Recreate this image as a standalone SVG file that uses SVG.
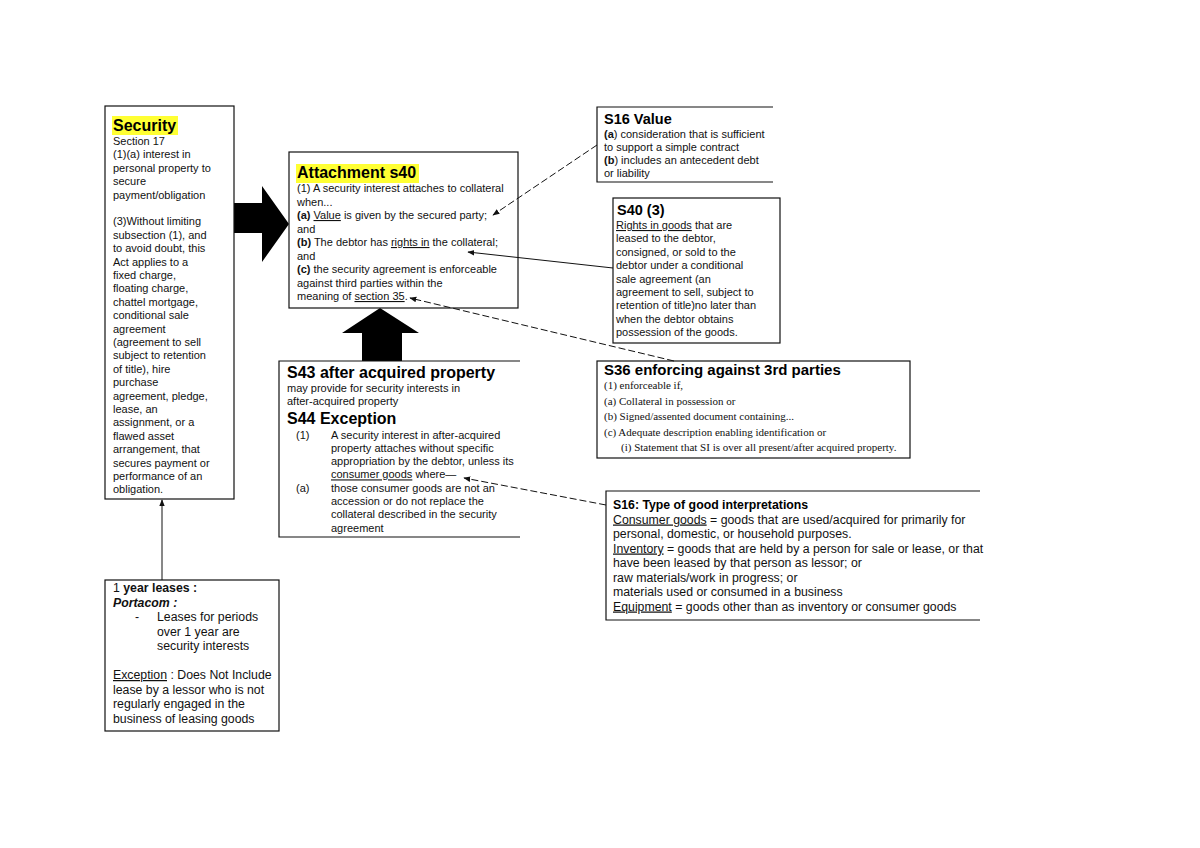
<svg xmlns="http://www.w3.org/2000/svg" width="1200" height="848" viewBox="0 0 1200 848">
<style>
.box{fill:#fff;stroke:#111;stroke-width:1.2}
.ln{fill:none;stroke:#111;stroke-width:1.2}
.t{font-family:"Liberation Sans",Arial,sans-serif;font-size:11px;fill:#111}
.t12{font-family:"Liberation Sans",Arial,sans-serif;font-size:12.3px;fill:#111}
.tr{font-family:"Liberation Serif","Times New Roman",serif;font-size:11px;fill:#111}
.h{font-family:"Liberation Sans",Arial,sans-serif;font-weight:bold;fill:#000}
.b{font-weight:bold}
.u{text-decoration:underline}
.hl{fill:#ffff33}
.con{fill:none;stroke:#111;stroke-width:1}
.dash{stroke-dasharray:7 3}
</style>
<defs>
<marker id="ah" viewBox="0 0 10 10" refX="9" refY="5" markerWidth="7" markerHeight="7" orient="auto" markerUnits="userSpaceOnUse">
<path d="M0,1 L10,5 L0,9 z" fill="#111"/>
</marker>
</defs>
<rect width="1200" height="848" fill="#fff"/>

<g id="big-arrows">
<path d="M234,203 L262,203 L262,186 L289,224 L262,262 L262,233 L234,233 z" fill="#000"/>
<path d="M362,361 L362,333 L342,333 L380,308 L419,333 L402,333 L402,361 z" fill="#000"/>
</g>

<g id="security">
<rect class="box" x="105" y="106" width="129" height="393"/>
<rect class="hl" x="112" y="116" width="66" height="19"/>
<text class="h" x="113" y="131" font-size="16">Security</text>
<text class="t">
<tspan x="113" y="145">Section 17</tspan>
<tspan x="113" y="158.4">(1)(a) interest in</tspan>
<tspan x="113" y="171.8">personal property to</tspan>
<tspan x="113" y="185.2">secure</tspan>
<tspan x="113" y="198.6">payment/obligation</tspan>
<tspan x="113" y="225.4">(3)Without limiting</tspan>
<tspan x="113" y="238.8">subsection (1), and</tspan>
<tspan x="113" y="252.2">to avoid doubt, this</tspan>
<tspan x="113" y="265.6">Act applies to a</tspan>
<tspan x="113" y="279">fixed charge,</tspan>
<tspan x="113" y="292.4">floating charge,</tspan>
<tspan x="113" y="305.8">chattel mortgage,</tspan>
<tspan x="113" y="319.2">conditional sale</tspan>
<tspan x="113" y="332.6">agreement</tspan>
<tspan x="113" y="346">(agreement to sell</tspan>
<tspan x="113" y="359.4">subject to retention</tspan>
<tspan x="113" y="372.8">of title), hire</tspan>
<tspan x="113" y="386.2">purchase</tspan>
<tspan x="113" y="399.6">agreement, pledge,</tspan>
<tspan x="113" y="413">lease, an</tspan>
<tspan x="113" y="426.4">assignment, or a</tspan>
<tspan x="113" y="439.8">flawed asset</tspan>
<tspan x="113" y="453.2">arrangement, that</tspan>
<tspan x="113" y="466.6">secures payment or</tspan>
<tspan x="113" y="480">performance of an</tspan>
<tspan x="113" y="493.4">obligation.</tspan>
</text>
</g>

<g id="attachment">
<rect class="box" x="289" y="152" width="229" height="156"/>
<rect class="hl" x="296" y="164" width="123" height="19"/>
<text class="h" x="297" y="178" font-size="16">Attachment s40</text>
<text class="t">
<tspan x="297" y="192">(1) A security interest attaches to collateral</tspan>
<tspan x="297" y="205.5">when...</tspan>
<tspan x="297" y="219"><tspan class="b">(a)</tspan> <tspan class="u">Value</tspan> is given by the secured party;</tspan>
<tspan x="297" y="232.5">and</tspan>
<tspan x="297" y="246"><tspan class="b">(b)</tspan> The debtor has <tspan class="u">rights in</tspan> the collateral;</tspan>
<tspan x="297" y="259.5">and</tspan>
<tspan x="297" y="273"><tspan class="b">(c)</tspan> the security agreement is enforceable</tspan>
<tspan x="297" y="286.5">against third parties within the</tspan>
<tspan x="297" y="300">meaning of <tspan class="u">section 35</tspan>.</tspan>
</text>
</g>

<g id="s16-value">
<path class="ln" d="M773,107 L597,107 L597,182 L773,182"/>
<text class="h" x="604" y="124" font-size="14.5">S16 Value</text>
<text class="t">
<tspan x="604" y="138"><tspan class="b">(a</tspan>) consideration that is sufficient</tspan>
<tspan x="604" y="151">to support a simple contract</tspan>
<tspan x="604" y="164"><tspan class="b">(b</tspan>) includes an antecedent debt</tspan>
<tspan x="604" y="177">or liability</tspan>
</text>
</g>

<g id="s40-3">
<rect class="box" x="613" y="198" width="167" height="145"/>
<text class="h" x="617" y="215" font-size="14.5">S40 (3)</text>
<text class="t">
<tspan x="616" y="229"><tspan class="u">Rights in goods</tspan> that are</tspan>
<tspan x="616" y="242.4">leased to the debtor,</tspan>
<tspan x="616" y="255.8">consigned, or sold to the</tspan>
<tspan x="616" y="269.2">debtor under a conditional</tspan>
<tspan x="616" y="282.6">sale agreement (an</tspan>
<tspan x="616" y="296">agreement to sell, subject to</tspan>
<tspan x="616" y="309.4">retention of title)no later than</tspan>
<tspan x="616" y="322.8">when the debtor obtains</tspan>
<tspan x="616" y="336.2">possession of the goods.</tspan>
</text>
</g>

<g id="s43-s44">
<path class="ln" d="M520,361 L279,361 L279,537 L520,537"/>
<text class="h" x="287" y="378" font-size="16">S43 after acquired property</text>
<text class="t">
<tspan x="287" y="391.5">may provide for security interests in</tspan>
<tspan x="287" y="405">after-acquired property</tspan>
</text>
<text class="h" x="287" y="424" font-size="16">S44 Exception</text>
<text class="t">
<tspan x="296" y="438.5">(1)</tspan>
<tspan x="331" y="438.5">A security interest in after-acquired</tspan>
<tspan x="331" y="451.8">property attaches without specific</tspan>
<tspan x="331" y="465.1">appropriation by the debtor, unless its</tspan>
<tspan x="331" y="478.4"><tspan class="u">consumer goods</tspan> where—</tspan>
<tspan x="296" y="491.7">(a)</tspan>
<tspan x="331" y="491.7">those consumer goods are not an</tspan>
<tspan x="331" y="505">accession or do not replace the</tspan>
<tspan x="331" y="518.3">collateral described in the security</tspan>
<tspan x="331" y="531.6">agreement</tspan>
</text>
</g>

<g id="s36">
<rect class="box" x="597" y="361" width="313" height="97"/>
<text class="h" x="604" y="375" font-size="15">S36 enforcing against 3rd parties</text>
<text class="tr">
<tspan x="604" y="389">(1) enforceable if,</tspan>
<tspan x="604" y="404.5">(a) Collateral in possession or</tspan>
<tspan x="604" y="420">(b) Signed/assented document containing...</tspan>
<tspan x="604" y="435.5">(c) Adequate description enabling identification or</tspan>
<tspan x="621" y="451">(i) Statement that SI is over all present/after acquired property.</tspan>
</text>
</g>

<g id="s16-type">
<path class="ln" d="M980,491 L606,491 L606,620 L980,620"/>
<text class="h" x="613" y="509" font-size="12.3">S16: Type of good interpretations</text>
<text class="t12">
<tspan x="613" y="523.5"><tspan class="u">Consumer goods</tspan> = goods that are used/acquired for primarily for</tspan>
<tspan x="613" y="538">personal, domestic, or household purposes.</tspan>
<tspan x="613" y="552.5"><tspan class="u">Inventory</tspan> = goods that are held by a person for sale or lease, or that</tspan>
<tspan x="613" y="567">have been leased by that person as lessor; or</tspan>
<tspan x="613" y="581.5">raw materials/work in progress; or</tspan>
<tspan x="613" y="596">materials used or consumed in a business</tspan>
<tspan x="613" y="610.5"><tspan class="u">Equipment</tspan> = goods other than as inventory or consumer goods</tspan>
</text>
</g>

<g id="leases">
<rect class="box" x="105" y="580" width="174" height="151"/>
<text class="t12">
<tspan x="113" y="592">1 <tspan class="b">year leases :</tspan></tspan>
<tspan x="113" y="606.5" class="b" font-style="italic">Portacom :</tspan>
<tspan x="135" y="621">-</tspan>
<tspan x="157" y="621">Leases for periods</tspan>
<tspan x="157" y="635.5">over 1 year are</tspan>
<tspan x="157" y="650">security interests</tspan>
<tspan x="113" y="679"><tspan class="u">Exception</tspan> : Does Not Include</tspan>
<tspan x="113" y="693.5">lease by a lessor who is not</tspan>
<tspan x="113" y="708">regularly engaged in the</tspan>
<tspan x="113" y="722.5">business of leasing goods</tspan>
</text>
</g>

<g id="connectors">
<line class="con dash" x1="597" y1="145" x2="493" y2="215" marker-end="url(#ah)"/>
<line class="con" x1="613" y1="268" x2="468" y2="252" marker-end="url(#ah)"/>
<line class="con dash" x1="674" y1="361" x2="410" y2="298" marker-end="url(#ah)"/>
<line class="con dash" x1="606" y1="505" x2="464" y2="478" marker-end="url(#ah)"/>
<line class="con" x1="162" y1="580" x2="162" y2="500" marker-end="url(#ah)"/>
</g>
</svg>
